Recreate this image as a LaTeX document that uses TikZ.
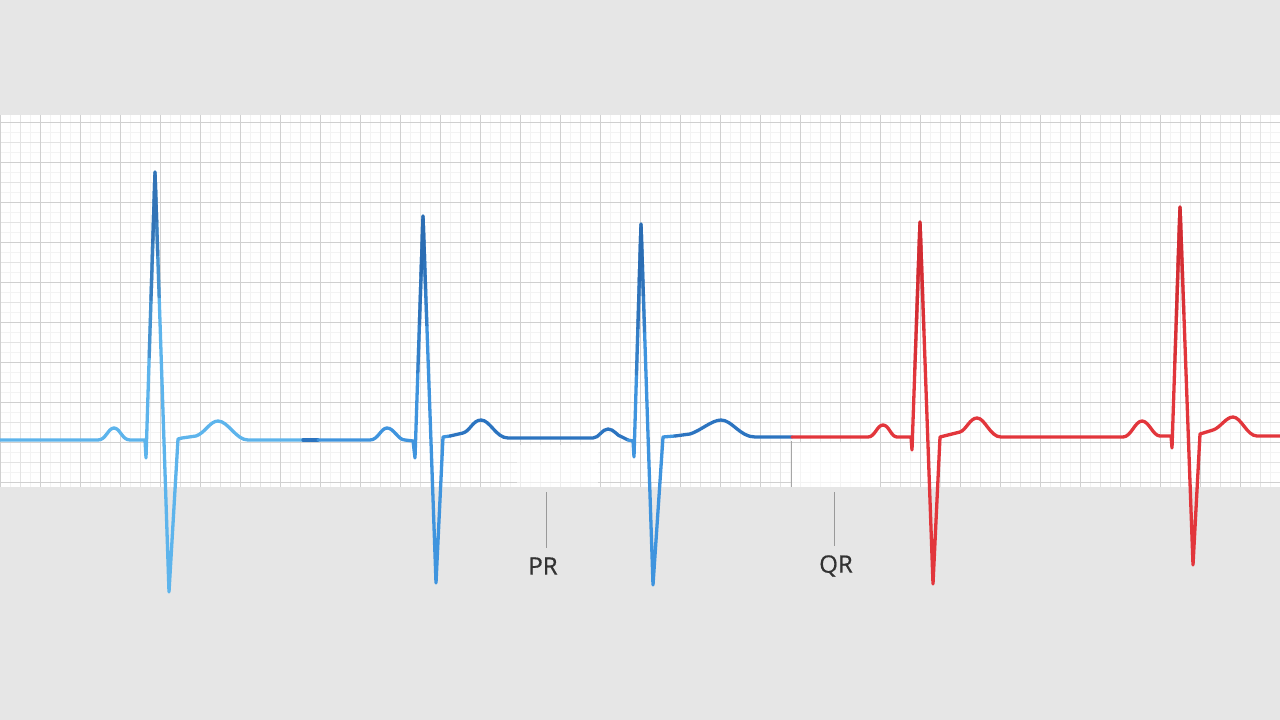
\documentclass[tikz,border=0pt]{standalone}
\usepackage{fontspec}
\setmainfont{Open Sans}
\newfontfamily\lblfont{Open Sans}[FakeBold=0.6]
\usetikzlibrary{calc}
\definecolor{bgc}{HTML}{E6E6E6}
\definecolor{gfine}{HTML}{F3F3F3}
\definecolor{gminor}{HTML}{E3E3E3}
\definecolor{gmajor}{HTML}{D0D0D0}
\definecolor{lblue}{HTML}{5DB4EC}
\definecolor{mblue}{HTML}{3F94DE}
\definecolor{dblue}{HTML}{2C74C0}
\definecolor{tblue}{HTML}{2763A8}
\definecolor{ecgred}{HTML}{E2363C}
\definecolor{tred}{HTML}{CF2A30}
\definecolor{lblc}{HTML}{333333}
\tikzset{
  fineline/.style={gfine, line width=0.6pt},
  minorline/.style={gminor, line width=0.8pt},
  majorline/.style={gmajor, line width=1pt},
  trace/.style={line width=3.3pt, line join=round, line cap=round},
  shade/.style={line width=3.3pt, line join=round, line cap=butt, opacity=0.4},
  leader/.style={draw=gray!80, line width=0.8pt},
  lbl/.style={font=\lblfont\fontsize{24}{28}\selectfont, text=lblc, inner sep=0pt}
}
\begin{document}
\begin{tikzpicture}[x=1pt,y=-1pt]
\useasboundingbox (0,0) rectangle (1280,720);
\fill[bgc] (0,0) rectangle (1280,720);
\fill[white] (0,115) rectangle (1280,487);
% grid
\foreach \x in {0,10,...,1280} \draw[fineline] (\x,115) -- (\x,487);
\foreach \y in {122,132,...,486} \draw[fineline] (0,\y) -- (1280,\y);
\foreach \x in {20,60,...,1280} \draw[minorline] (\x,115) -- (\x,487);
\foreach \y in {142,182,...,486} \draw[minorline] (0,\y) -- (1280,\y);
\foreach \x in {0,40,...,1280} \draw[majorline] (\x,115) -- (\x,487);
\foreach \y in {122,162,...,482} \draw[majorline] (0,\y) -- (1280,\y);
% faint label patches
\fill[white, opacity=0.6] (517,445) rectangle (598,487);
\fill[white, opacity=0.75] (792,443) rectangle (880,487);
\draw[gray!70, line width=0.8pt] (791,441) -- (791,487);
% key points of the QRS complexes
\coordinate (q1) at (146,458); \coordinate (r1) at (155,172); \coordinate (s1) at (169,592);
\coordinate (q2) at (415,458); \coordinate (r2) at (423,216); \coordinate (s2) at (436,583);
\coordinate (q3) at (634,457); \coordinate (r3) at (641,224); \coordinate (s3) at (653,585);
\coordinate (q4) at (912,450); \coordinate (r4) at (920,222); \coordinate (s4) at (933,584);
\coordinate (q5) at (1172,448); \coordinate (r5) at (1180,207); \coordinate (s5) at (1193,565);
% beat 1
\draw[trace, lblue] (0,440) -- (98,440) .. controls (106,440) and (108,428) .. (114,428)
  .. controls (120,428) and (122,440) .. (130,440) -- (145,440) -- (q1) -- (r1)
  -- (s1) -- (178,439) -- (182,438) -- (196,436)
  .. controls (205,433) and (210,421) .. (218,421)
  .. controls (228,421) and (236,440) .. (248,440) -- (303,440);
% beat 2
\draw[trace, dblue] (303,440) -- (318,440);
\draw[trace, mblue] (318,440) -- (370,440) .. controls (378,440) and (381,428) .. (387,428)
  .. controls (394,428) and (398,440) .. (405,440) -- (413,441) -- (q2) -- (r2)
  -- (s2) -- (443,437) -- (450,436);
\draw[trace, dblue] (450,436) -- (463,433) .. controls (470,431) and (473,420) .. (481,420)
  .. controls (490,420) and (496,438) .. (508,438) -- (593,438)
  .. controls (599,438) and (602,429) .. (608,429)
  .. controls (614,429) and (617,436) .. (622,437) -- (628,440);
% beat 3
\draw[trace, mblue] (628,440) -- (633,441) -- (q3) -- (r3) -- (s3)
  -- (663,437) -- (675,436);
\draw[trace, dblue] (675,436) -- (690,434) .. controls (700,431) and (712,420) .. (721,420)
  .. controls (732,420) and (740,437) .. (755,437) -- (792,437);
% beats 4 and 5 (red)
\draw[trace, ecgred] (792,437) -- (868,437) .. controls (875,437) and (877,425) .. (883,425)
  .. controls (889,425) and (891,437) .. (897,437) -- (911,437) -- (q4) -- (r4)
  -- (s4) -- (940,437) -- (960,432) .. controls (966,430) and (970,418) .. (977,418)
  .. controls (985,418) and (990,437) .. (1001,437) -- (1123,437)
  .. controls (1131,437) and (1135,421) .. (1142,421)
  .. controls (1149,421) and (1153,436) .. (1160,436) -- (1171,436) -- (q5) -- (r5)
  -- (s5) -- (1200,434) -- (1213,430) .. controls (1220,428) and (1226,417) .. (1233,417)
  .. controls (1241,417) and (1247,436) .. (1257,436) -- (1280,436);
% darker tops of the R spikes (layered, for a soft gradient)
\foreach \q/\r/\s/\c in {q1/r1/s1/tblue, q2/r2/s2/tblue, q3/r3/s3/tblue, q4/r4/s4/tred, q5/r5/s5/tred}{
  \draw[shade, \c] ($(\q)!0.35!(\r)$) -- (\r) -- ($(\r)!0.3!(\s)$);
  \draw[shade, \c] ($(\q)!0.55!(\r)$) -- (\r) -- ($(\r)!0.2!(\s)$);
  \draw[shade, \c] ($(\q)!0.75!(\r)$) -- (\r) -- ($(\r)!0.12!(\s)$);
}
% labels
\node[lbl] (pr) at (543,566) {PR};
\coordinate (prtop) at (546,492);
\draw[leader] (prtop) -- ([yshift=9pt]pr.north -| prtop);
\node[lbl] (qr) at (836,566) {QR};
\coordinate (qrtop) at (834,492);
\draw[leader] (qrtop) -- ([yshift=9pt]qr.north -| qrtop);
\end{tikzpicture}
\end{document}
